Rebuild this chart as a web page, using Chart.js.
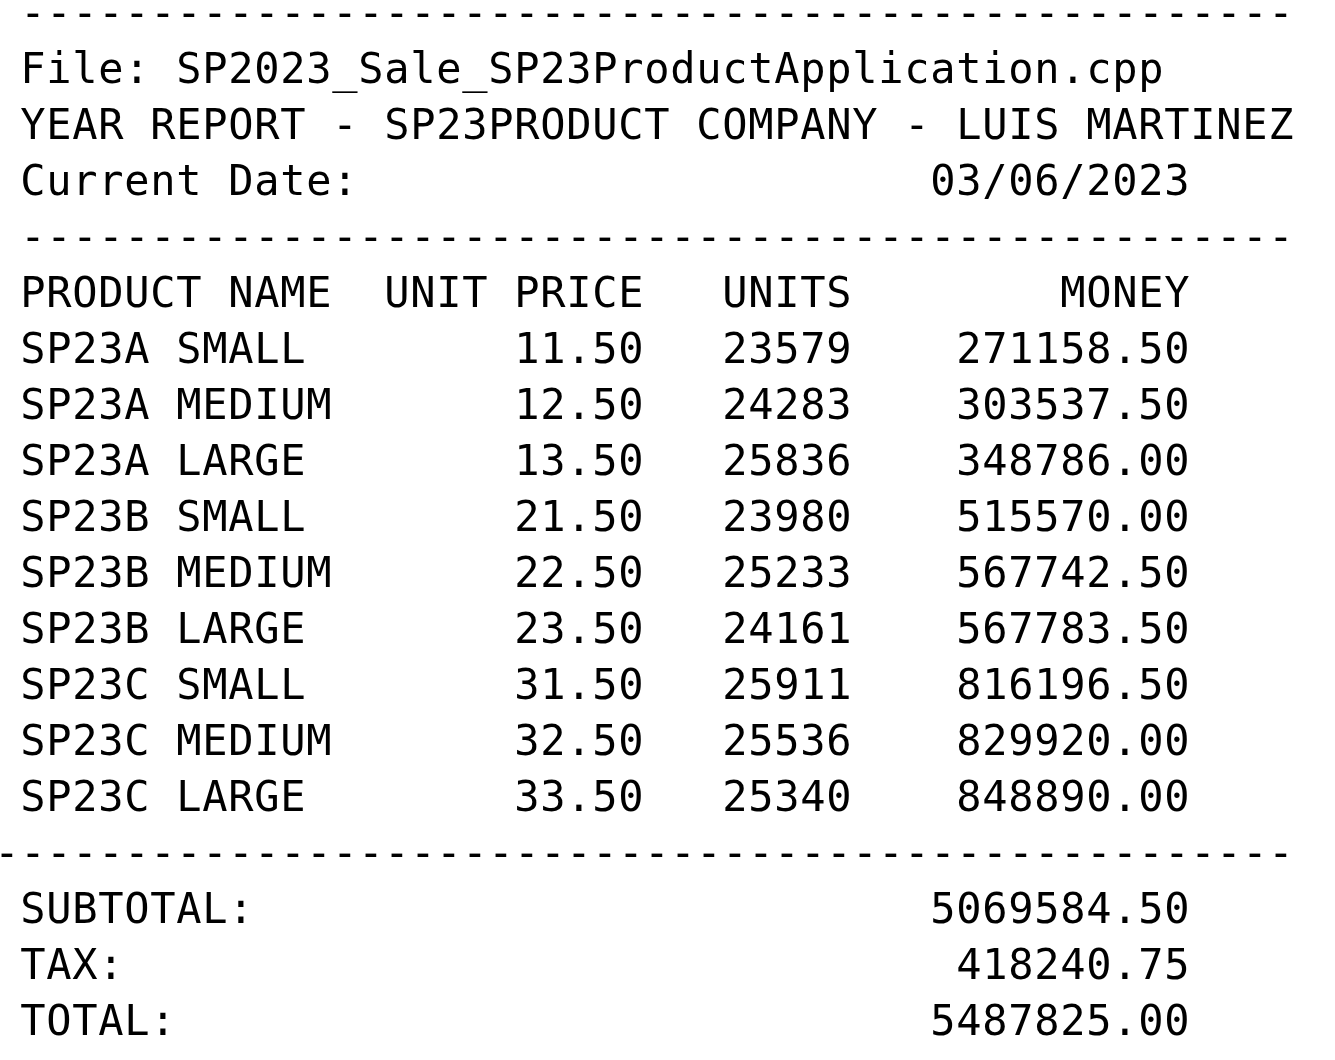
<!DOCTYPE html>
<html><head><meta charset="utf-8">
<script src="https://cdn.jsdelivr.net/npm/chart.js@4"></script>
<style>html,body{margin:0;background:#fff;overflow:hidden}</style>
</head><body>
<canvas id="c" width="1335" height="1060"></canvas>
<script>
const headerLines = ["File: SP2023_Sale_SP23ProductApplication.cpp","YEAR REPORT - SP23PRODUCT COMPANY - LUIS MARTINEZ"];
const reportDate = "03/06/2023";
const productNames = ["SP23A SMALL","SP23A MEDIUM","SP23A LARGE","SP23B SMALL","SP23B MEDIUM","SP23B LARGE","SP23C SMALL","SP23C MEDIUM","SP23C LARGE"];
const unitPrices = [11.50,12.50,13.50,21.50,22.50,23.50,31.50,32.50,33.50];
const unitsSold = [23579,24283,25836,23980,25233,24161,25911,25536,25340];
const moneyValues = [271158.50,303537.50,348786.00,515570.00,567742.50,567783.50,816196.50,829920.00,848890.00];
const totalLabels = ["SUBTOTAL:","TAX:","TOTAL:"];
const totalValues = [5069584.50,418240.75,5487825.00];

function place(s, col, str){ while(s.length<col) s+=" "; return s+str; }
function right(s, endCol, str){ return place(s, endCol-str.length, str); }
const lines = [];
lines.push({t:"-".repeat(49),x:20});
headerLines.forEach(h=>lines.push({t:h,x:20}));
lines.push({t:right("Current Date:",45,reportDate),x:20});
lines.push({t:"-".repeat(49),x:20});
lines.push({t:right(place(place("PRODUCT NAME",14,"UNIT PRICE"),27,"UNITS"),45,"MONEY"),x:20});
productNames.forEach((n,i)=>{
  let s=right(n,24,unitPrices[i].toFixed(2));
  s=place(s,27,String(unitsSold[i]));
  s=right(s,45,moneyValues[i].toFixed(2));
  lines.push({t:s,x:20});
});
lines.push({t:"-".repeat(50),x:-6});
totalLabels.forEach((l,i)=>lines.push({t:right(l,45,totalValues[i].toFixed(2)),x:20}));

const textPlugin={id:'report',afterDraw(chart){
  const ctx=chart.ctx; ctx.save();
  ctx.fillStyle="#000"; ctx.font="42px 'DejaVu Sans Mono'"; ctx.textBaseline="middle"; ctx.textAlign="center";
  lines.forEach((ln,r)=>{
    const y=16+56*r;
    for(let i=0;i<ln.t.length;i++){ const ch=ln.t[i]; if(ch!==" ") ctx.fillText(ch, ln.x+26*i+13, y); }
  });
  ctx.restore();
}};
new Chart(document.getElementById('c'),{type:'scatter',data:{datasets:[{data:[]}]},
  options:{responsive:false,animation:false,devicePixelRatio:1,plugins:{legend:{display:false},tooltip:{enabled:false}},
  scales:{x:{display:false},y:{display:false}}},plugins:[textPlugin]});
</script></body></html>
